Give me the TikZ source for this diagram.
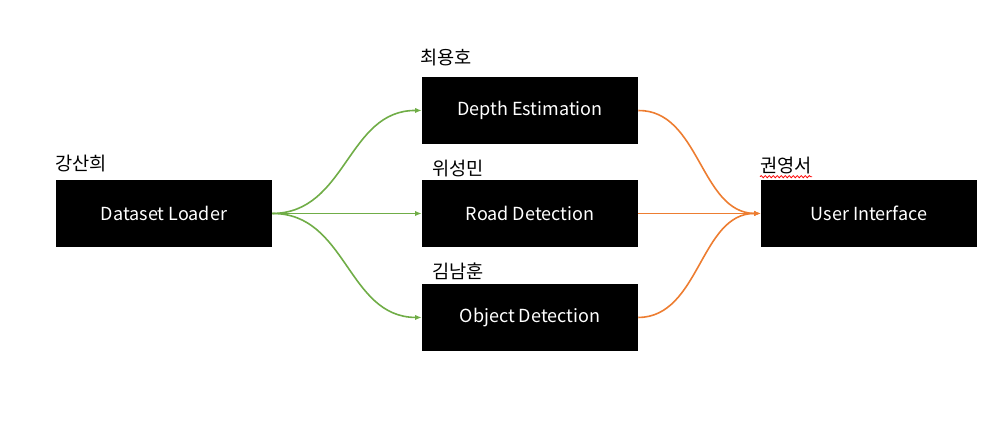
\documentclass[tikz,border=0pt]{standalone}
\usepackage{fontspec}
\setmainfont{Noto Sans CJK KR}
\usetikzlibrary{arrows.meta,decorations.pathmorphing}
\definecolor{grn}{RGB}{112,173,71}
\definecolor{org}{RGB}{237,125,49}
\begin{document}
\begin{tikzpicture}[x=0.75pt,y=-0.75pt,
  box/.style={fill=black,text=white,minimum width=162pt,minimum height=50.25pt,inner sep=0pt,font=\fontsize{13.5}{16}\selectfont},
  lbl/.style={anchor=south west,inner sep=0pt,font=\fontsize{14}{16}\selectfont},
  ga/.style={draw=grn,line width=1.2pt,-{Latex[length=5pt,width=4pt]}},
  oa/.style={draw=org,line width=1.2pt,-{Latex[length=5pt,width=4pt]}}]
\useasboundingbox (0,0) rectangle (1007,443);
\node[box] (dl) at (164,213.5) {Dataset Loader};
\node[box] (de) at (530,110.5) {Depth Estimation};
\node[box] (rd) at (530,213.5) {Road Detection};
\node[box] (od) at (530,317.5) {Object Detection};
\node[box] (ui) at (869,213.5) {User Interface};
\node[lbl] (l1) at (55,172) {강산희};
\node[lbl] (l2) at (420,66) {최용호};
\node[lbl] (l3) at (432,177) {위성민};
\node[lbl] (l4) at (432,280) {김남훈};
\node[lbl] (l5) at (760,174) {권영서};
\draw[red,line width=0.6pt,decorate,decoration={snake,amplitude=0.8pt,segment length=3pt}] ([yshift=-2pt]l5.south west) -- ([yshift=-2pt]l5.south east);
\coordinate (s) at (dl.east);
\draw[ga] (s) .. controls (347,213) and (347,110) .. (de.west);
\draw[ga] (s) -- (rd.west);
\draw[ga] (s) .. controls (347,213) and (347,317) .. (od.west);
\coordinate (t) at (ui.west);
\draw[oa] (de.east) .. controls (700,110) and (700,213) .. (t);
\draw[oa] (rd.east) -- (t);
\draw[oa] (od.east) .. controls (700,317) and (700,213) .. (t);
\end{tikzpicture}
\end{document}
